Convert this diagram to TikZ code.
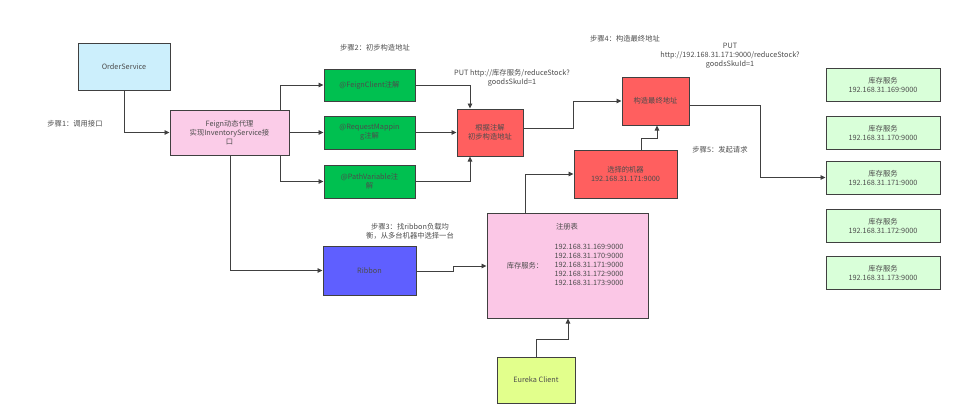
\documentclass[tikz,border=0pt]{standalone}
\usepackage{fontspec}
\setmainfont{Noto Sans CJK SC}
\usetikzlibrary{arrows.meta}
\definecolor{gr}{RGB}{0,192,80}
\definecolor{rd}{RGB}{255,95,95}
\definecolor{bl}{RGB}{95,95,255}
\begin{document}
\begin{tikzpicture}[x=1pt,y=-1pt,
 box/.style={draw=black!75,line width=1pt,align=center,font=\fontsize{7.3}{9}\selectfont,text=black!70,inner sep=1pt},
 lbl/.style={align=center,font=\fontsize{7.3}{9}\selectfont,text=black!70},
 ar/.style={draw=black!75,line width=0.9pt,-{Triangle[length=5pt,width=4.5pt]}}]
\useasboundingbox (0,0) rectangle (953,413);
\newcommand{\bx}[6]{\node[box,fill=#6,minimum width=#4-#2,minimum height=#5-#3] (#1) at ({(#2+#4)/2},{(#3+#5)/2})}
\bx{os}{78}{43}{170}{90}{cyan!20}{OrderService};
\bx{fe}{170}{110}{289}{155}{magenta!20}{Feign动态代理\\实现InventoryService接\\口};
\bx{fc}{324}{69}{415}{101}{gr}{@FeignClient注解};
\bx{rm}{324}{116}{415}{149}{gr}{@RequestMappin\\g注解};
\bx{pv}{324}{165}{415}{198}{gr}{@PathVariable注\\解};
\bx{gj}{457}{109}{523}{156}{rd}{根据注解\\初步构造地址};
\bx{gz}{622}{77}{689}{125}{rd}{构造最终地址};
\bx{xz}{574}{150}{677}{198}{rd}{选择的机器\\192.168.31.171:9000};
\bx{rb}{323}{246}{416}{295}{bl}{Ribbon};
\bx{zc}{487}{213}{648}{318}{magenta!22}{};
\bx{eu}{497}{357}{575}{403}{lime!45}{Eureka Client};
\node[lbl] at (567,227) {注册表};
\node[lbl] at (525,266) {库存服务：};
\node[lbl,align=left,anchor=west] at (551,265) {192.168.31.169:9000\\192.168.31.170:9000\\192.168.31.171:9000\\192.168.31.172:9000\\192.168.31.173:9000};
\foreach \i/\a/\b in {1/68/101,2/116/149,3/161/194,4/209/242,5/256/289}{
 \bx{k\i}{826}{\a}{940}{\b}{green!15}{库存服务\\192.168.31.\the\numexpr168+\i\relax:9000};}
\draw[ar] (os.south) |- (fe.west);
\draw[ar] (fe.north -| 280,0) |- (fc.west);
\draw[ar] (fe.east |- rm) -- (rm.west);
\draw[ar] (fe.south -| 280,0) |- (pv.west);
\draw[ar] (fc.east) -| (gj.north -| 470,0);
\draw[ar] (rm.east) -- (gj.west |- rm);
\draw[ar] (pv.east) -| (gj.south -| 470,0);
\draw[ar] (gj.east |- 0,128) -- (573,128) |- (gz.west |- 0,101);
\draw[ar] (xz.north -| 641,0) -- (641,138) -- (657,138) -- (gz.south -| 657,0);
\draw[ar] (gz.east |- 0,105) -- (760,105) |- (k3.west);
\draw[ar] (fe.south -| 230,0) |- (rb.west);
\draw[ar] (rb.east |- 0,271) -- (453,271) -- (453,266) -- (zc.west |- 0,266);
\draw[ar] (zc.north -| 525,0) |- (xz.west);
\draw[ar] (eu.north -| 536,0) -- (536,339) -- (568,339) -- (zc.south -| 568,0);
\node[lbl] at (75,124) {步骤1：调用接口};
\node[lbl] at (375,48) {步骤2：初步构造地址};
\node[lbl] at (512,78) {PUT http://库存服务/reduceStock?\\goodsSkuId=1};
\node[lbl] at (625,39) {步骤4：构造最终地址};
\node[lbl] at (730,56) {PUT\\http://192.168.31.171:9000/reduceStock?\\goodsSkuId=1};
\node[lbl] at (720,150) {步骤5：发起请求};
\node[lbl] at (410,231) {步骤3：找ribbon负载均\\衡，从多台机器中选择一台};
\end{tikzpicture}
\end{document}
